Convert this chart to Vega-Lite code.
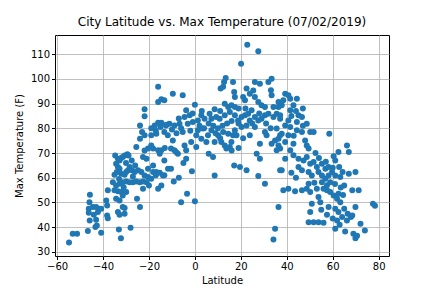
{
  "$schema": "https://vega.github.io/schema/vega-lite/v6.json",
  "width": 334,
  "height": 221,
  "autosize": {"type": "none"},
  "padding": {"left": 55, "top": 35, "right": 43, "bottom": 32},
  "title": {"text": "City Latitude vs. Max Temperature (07/02/2019)", "font": "DejaVu Sans", "fontSize": 12, "fontWeight": "normal", "color": "black", "offset": 6},
  "config": {
    "view": {"stroke": "black", "strokeWidth": 1},
    "axis": {"labelFont": "DejaVu Sans", "titleFont": "DejaVu Sans", "labelFontSize": 10, "titleFontSize": 10, "titleFontWeight": "normal", "labelColor": "black", "titleColor": "black", "gridColor": "#b0b0b0", "gridWidth": 0.8, "tickColor": "black", "tickSize": 3.5, "domain": false}
  },
  "data": {"values": [
    {"lat": -54.8, "temp": 33.8}, {"lat": -53.2, "temp": 37.3}, {"lat": -51.3, "temp": 37.3}, {"lat": -46.6, "temp": 38.4},
    {"lat": -45.7, "temp": 53.1}, {"lat": -45.9, "temp": 50.1}, {"lat": -46.2, "temp": 47.4}, {"lat": -46.2, "temp": 45.8}, {"lat": -45.8, "temp": 42.7},
    {"lat": -44.4, "temp": 48.1}, {"lat": -43.0, "temp": 48.1}, {"lat": -41.8, "temp": 47.4}, {"lat": -42.2, "temp": 46.1}, {"lat": -40.8, "temp": 47.4},
    {"lat": -43.0, "temp": 43.0}, {"lat": -42.7, "temp": 40.7}, {"lat": -43.3, "temp": 40.0}, {"lat": -40.8, "temp": 37.7},
    {"lat": -38.6, "temp": 50.8}, {"lat": -38.2, "temp": 48.8}, {"lat": -38.2, "temp": 44.7}, {"lat": -37.9, "temp": 43.6}, {"lat": -37.9, "temp": 54.9},
    {"lat": -34.7, "temp": 69.0}, {"lat": -33.5, "temp": 67.7}, {"lat": -32.8, "temp": 67.0}, {"lat": -32.1, "temp": 68.0}, {"lat": -31.4, "temp": 68.4}, {"lat": -30.6, "temp": 69.0}, {"lat": -29.4, "temp": 69.5}, {"lat": -28.9, "temp": 69.0},
    {"lat": -34.3, "temp": 65.7}, {"lat": -33.5, "temp": 64.3}, {"lat": -32.8, "temp": 63.6}, {"lat": -34.0, "temp": 62.3}, {"lat": -35.0, "temp": 61.2}, {"lat": -32.1, "temp": 61.6}, {"lat": -30.6, "temp": 61.2}, {"lat": -29.9, "temp": 62.3}, {"lat": -29.1, "temp": 63.0},
    {"lat": -35.7, "temp": 58.2}, {"lat": -34.3, "temp": 56.9}, {"lat": -32.8, "temp": 57.6}, {"lat": -31.4, "temp": 58.2}, {"lat": -29.9, "temp": 58.5}, {"lat": -28.4, "temp": 58.2}, {"lat": -27.0, "temp": 58.2}, {"lat": -25.5, "temp": 58.5}, {"lat": -24.0, "temp": 58.2}, {"lat": -22.6, "temp": 58.5}, {"lat": -21.1, "temp": 58.2},
    {"lat": -35.0, "temp": 54.9}, {"lat": -33.5, "temp": 54.5}, {"lat": -32.1, "temp": 54.2}, {"lat": -34.3, "temp": 51.5}, {"lat": -32.8, "temp": 50.8}, {"lat": -31.4, "temp": 52.8}, {"lat": -29.9, "temp": 54.2},
    {"lat": -33.5, "temp": 46.1}, {"lat": -32.8, "temp": 45.0}, {"lat": -31.4, "temp": 48.1}, {"lat": -30.6, "temp": 47.7}, {"lat": -30.6, "temp": 45.4},
    {"lat": -33.1, "temp": 39.0}, {"lat": -32.2, "temp": 35.5}, {"lat": -28.0, "temp": 39.7},
    {"lat": -25.2, "temp": 51.5}, {"lat": -23.9, "temp": 48.1},
    {"lat": -28.4, "temp": 64.3}, {"lat": -27.4, "temp": 63.0}, {"lat": -26.2, "temp": 62.3}, {"lat": -24.7, "temp": 63.0},
    {"lat": -25.5, "temp": 72.4}, {"lat": -23.9, "temp": 75.8}, {"lat": -23.9, "temp": 81.2}, {"lat": -23.0, "temp": 78.5}, {"lat": -21.9, "temp": 77.2},
    {"lat": -21.9, "temp": 87.7}, {"lat": -21.9, "temp": 84.9},
    {"lat": -21.9, "temp": 71.0}, {"lat": -20.4, "temp": 71.8}, {"lat": -19.0, "temp": 73.1}, {"lat": -22.6, "temp": 68.4}, {"lat": -21.1, "temp": 67.7},
    {"lat": -23.3, "temp": 62.3}, {"lat": -21.9, "temp": 60.9}, {"lat": -20.4, "temp": 60.3}, {"lat": -22.6, "temp": 55.5}, {"lat": -20.0, "temp": 56.9}, {"lat": -20.4, "temp": 63.6},
    {"lat": -19.0, "temp": 77.2}, {"lat": -16.8, "temp": 77.8}, {"lat": -17.5, "temp": 81.2}, {"lat": -16.0, "temp": 82.3}, {"lat": -14.6, "temp": 82.3}, {"lat": -12.4, "temp": 81.5},
    {"lat": -16.0, "temp": 96.8}, {"lat": -16.0, "temp": 90.7}, {"lat": -14.6, "temp": 91.8},
    {"lat": -18.2, "temp": 71.8}, {"lat": -16.0, "temp": 71.1}, {"lat": -14.6, "temp": 71.1}, {"lat": -13.1, "temp": 72.0}, {"lat": -15.3, "temp": 69.7},
    {"lat": -18.2, "temp": 65.0}, {"lat": -16.8, "temp": 62.3}, {"lat": -15.3, "temp": 62.0}, {"lat": -13.9, "temp": 60.9}, {"lat": -18.2, "temp": 62.3}, {"lat": -19.0, "temp": 59.6},
    {"lat": -16.0, "temp": 55.5}, {"lat": -14.6, "temp": 56.9}, {"lat": -11.7, "temp": 63.6},
    {"lat": 22.8, "temp": 113.9}, {"lat": 27.6, "temp": 111.2}, {"lat": 20.1, "temp": 106.2},
    {"lat": 13.4, "temp": 100.4}, {"lat": 12.7, "temp": 98.8}, {"lat": 11.2, "temp": 96.1}, {"lat": 12.3, "temp": 96.8},
    {"lat": 16.6, "temp": 98.8}, {"lat": 17.1, "temp": 94.7}, {"lat": 17.4, "temp": 92.7},
    {"lat": 21.0, "temp": 92.7}, {"lat": 22.5, "temp": 96.1}, {"lat": 21.8, "temp": 91.4}, {"lat": 23.9, "temp": 94.0}, {"lat": 26.1, "temp": 98.8}, {"lat": 28.3, "temp": 98.1}, {"lat": 32.0, "temp": 98.8}, {"lat": 33.4, "temp": 100.1}, {"lat": 33.1, "temp": 95.4}, {"lat": 33.4, "temp": 93.4},
    {"lat": 25.4, "temp": 95.3}, {"lat": 26.1, "temp": 92.7}, {"lat": 27.6, "temp": 90.7}, {"lat": 29.0, "temp": 89.3}, {"lat": 30.5, "temp": 88.6}, {"lat": 34.2, "temp": 88.6}, {"lat": 36.4, "temp": 90.7},
    {"lat": -9.6, "temp": 94.0}, {"lat": -5.3, "temp": 93.4}, {"lat": -13.3, "temp": 91.4}, {"lat": 0.0, "temp": 89.6},
    {"lat": -3.8, "temp": 87.3}, {"lat": -2.3, "temp": 85.3}, {"lat": -4.5, "temp": 84.6}, {"lat": -6.7, "temp": 81.9}, {"lat": -8.9, "temp": 81.2}, {"lat": -11.1, "temp": 81.9}, {"lat": -12.6, "temp": 81.2}, {"lat": -3.1, "temp": 81.9}, {"lat": -0.9, "temp": 82.6}, {"lat": 1.3, "temp": 83.2}, {"lat": 2.8, "temp": 85.3}, {"lat": 4.2, "temp": 83.9}, {"lat": 6.4, "temp": 85.9}, {"lat": 8.6, "temp": 87.7}, {"lat": 7.2, "temp": 83.9}, {"lat": 9.3, "temp": 84.6}, {"lat": 10.8, "temp": 83.9}, {"lat": 13.0, "temp": 85.3}, {"lat": 14.5, "temp": 88.6}, {"lat": 15.9, "temp": 89.3}, {"lat": 15.2, "temp": 86.6}, {"lat": 17.4, "temp": 88.6}, {"lat": 17.4, "temp": 85.3}, {"lat": 18.8, "temp": 83.2}, {"lat": 20.3, "temp": 84.6}, {"lat": 21.8, "temp": 85.3}, {"lat": 23.2, "temp": 85.9}, {"lat": 23.9, "temp": 83.2}, {"lat": 24.7, "temp": 87.3}, {"lat": 26.1, "temp": 84.6}, {"lat": 27.6, "temp": 83.2}, {"lat": 29.0, "temp": 83.9}, {"lat": 30.5, "temp": 85.3}, {"lat": 32.0, "temp": 85.9}, {"lat": 34.2, "temp": 84.6}, {"lat": 35.6, "temp": 85.9}, {"lat": 37.1, "temp": 85.3},
    {"lat": -13.3, "temp": 78.5}, {"lat": -11.8, "temp": 77.2}, {"lat": -9.6, "temp": 75.1}, {"lat": -10.4, "temp": 71.8}, {"lat": -8.9, "temp": 71.1}, {"lat": -7.4, "temp": 69.7}, {"lat": -5.3, "temp": 78.5}, {"lat": -4.5, "temp": 73.1}, {"lat": -3.8, "temp": 71.1}, {"lat": -3.8, "temp": 67.7}, {"lat": -1.6, "temp": 74.5}, {"lat": 0.6, "temp": 72.4}, {"lat": 0.6, "temp": 77.2}, {"lat": 1.3, "temp": 79.2}, {"lat": 3.5, "temp": 79.9}, {"lat": 2.8, "temp": 75.8}, {"lat": 5.0, "temp": 74.5}, {"lat": 5.7, "temp": 77.2}, {"lat": 7.2, "temp": 79.2}, {"lat": 8.6, "temp": 74.5}, {"lat": 10.1, "temp": 77.2}, {"lat": 11.5, "temp": 74.5}, {"lat": 13.0, "temp": 73.1}, {"lat": 13.7, "temp": 71.8}, {"lat": 15.2, "temp": 72.4}, {"lat": 15.9, "temp": 74.5}, {"lat": 16.6, "temp": 77.2}, {"lat": 14.5, "temp": 77.8}, {"lat": 12.3, "temp": 78.5}, {"lat": 17.4, "temp": 79.2}, {"lat": 23.9, "temp": 77.2}, {"lat": 28.3, "temp": 73.8}, {"lat": 30.5, "temp": 78.5}, {"lat": 31.2, "temp": 77.2}, {"lat": 33.4, "temp": 73.8}, {"lat": 34.9, "temp": 75.1}, {"lat": 36.4, "temp": 73.1}, {"lat": 37.1, "temp": 77.2}, {"lat": 26.1, "temp": 80.5}, {"lat": 20.3, "temp": 80.5}, {"lat": 18.1, "temp": 77.2}, {"lat": 22.5, "temp": 81.2},
    {"lat": -13.3, "temp": 67.0}, {"lat": -13.3, "temp": 61.0}, {"lat": -10.4, "temp": 63.6}, {"lat": -9.2, "temp": 58.5}, {"lat": -6.0, "temp": 50.1}, {"lat": -3.4, "temp": 53.5}, {"lat": 0.0, "temp": 50.5}, {"lat": -1.3, "temp": 62.6}, {"lat": 6.0, "temp": 69.7}, {"lat": 7.9, "temp": 68.4}, {"lat": 8.6, "temp": 60.9}, {"lat": 17.1, "temp": 65.0}, {"lat": 19.6, "temp": 64.3}, {"lat": 22.5, "temp": 63.0}, {"lat": 26.9, "temp": 69.7}, {"lat": 28.3, "temp": 67.7}, {"lat": 27.6, "temp": 60.7}, {"lat": 30.5, "temp": 57.6}, {"lat": 37.1, "temp": 63.0}, {"lat": 36.4, "temp": 48.1}, {"lat": 34.9, "temp": 39.3}, {"lat": 34.2, "temp": 35.0}, {"lat": -8.2, "temp": 70.4},
    {"lat": 39.3, "temp": 94.0}, {"lat": 40.7, "temp": 93.4}, {"lat": 41.5, "temp": 92.0}, {"lat": 38.5, "temp": 91.4}, {"lat": 44.4, "temp": 92.0}, {"lat": 42.9, "temp": 89.3}, {"lat": 37.8, "temp": 89.3}, {"lat": 36.4, "temp": 88.6}, {"lat": 41.5, "temp": 87.3}, {"lat": 45.1, "temp": 85.3}, {"lat": 46.6, "temp": 84.6}, {"lat": 48.7, "temp": 81.9}, {"lat": 44.4, "temp": 82.6}, {"lat": 40.7, "temp": 83.2}, {"lat": 37.1, "temp": 83.9}, {"lat": 39.3, "temp": 81.2}, {"lat": 41.5, "temp": 80.5}, {"lat": 44.4, "temp": 79.2}, {"lat": 46.6, "temp": 78.5}, {"lat": 50.2, "temp": 78.5}, {"lat": 51.7, "temp": 78.5}, {"lat": 58.5, "temp": 77.8}, {"lat": 35.6, "temp": 79.9}, {"lat": 37.8, "temp": 77.8}, {"lat": 40.7, "temp": 77.2}, {"lat": 36.4, "temp": 75.8}, {"lat": 39.3, "temp": 74.5}, {"lat": 42.9, "temp": 73.8}, {"lat": 37.1, "temp": 71.8}, {"lat": 41.5, "temp": 71.1}, {"lat": 48.0, "temp": 75.1}, {"lat": 48.7, "temp": 73.1}, {"lat": 49.5, "temp": 71.8}, {"lat": 35.6, "temp": 71.1}, {"lat": 39.3, "temp": 67.7}, {"lat": 42.9, "temp": 69.1}, {"lat": 45.1, "temp": 67.7}, {"lat": 47.3, "temp": 67.0}, {"lat": 48.7, "temp": 68.4}, {"lat": 50.2, "temp": 65.7}, {"lat": 51.7, "temp": 66.4}, {"lat": 53.1, "temp": 64.3}, {"lat": 55.3, "temp": 65.7}, {"lat": 56.8, "temp": 63.6}, {"lat": 58.2, "temp": 64.3}, {"lat": 61.1, "temp": 67.0}, {"lat": 62.5, "temp": 70.4}, {"lat": 66.2, "temp": 73.1}, {"lat": 67.0, "temp": 70.4}, {"lat": 60.4, "temp": 68.7}, {"lat": 62.8, "temp": 64.3}, {"lat": 64.3, "temp": 62.3}, {"lat": 67.0, "temp": 61.6}, {"lat": 69.9, "temp": 62.3}, {"lat": 45.1, "temp": 64.3}, {"lat": 46.6, "temp": 63.0}, {"lat": 49.5, "temp": 62.3}, {"lat": 50.9, "temp": 60.9}, {"lat": 53.8, "temp": 62.3}, {"lat": 55.3, "temp": 60.9}, {"lat": 56.8, "temp": 59.6}, {"lat": 58.2, "temp": 60.9}, {"lat": 58.9, "temp": 58.2}, {"lat": 59.7, "temp": 62.3}, {"lat": 61.1, "temp": 60.9}, {"lat": 63.3, "temp": 60.3}, {"lat": 37.8, "temp": 63.0}, {"lat": 40.7, "temp": 55.5}, {"lat": 38.5, "temp": 54.9}, {"lat": 43.6, "temp": 54.5}, {"lat": 46.6, "temp": 54.9}, {"lat": 48.7, "temp": 55.5}, {"lat": 50.2, "temp": 54.2}, {"lat": 49.5, "temp": 57.6}, {"lat": 53.1, "temp": 55.5}, {"lat": 55.3, "temp": 58.2}, {"lat": 56.0, "temp": 55.5}, {"lat": 57.5, "temp": 54.9}, {"lat": 58.9, "temp": 54.2}, {"lat": 60.4, "temp": 52.8}, {"lat": 61.9, "temp": 51.5}, {"lat": 63.3, "temp": 50.1}, {"lat": 62.5, "temp": 53.5}, {"lat": 65.0, "temp": 56.9}, {"lat": 68.5, "temp": 54.9}, {"lat": 71.3, "temp": 54.9}, {"lat": 53.8, "temp": 52.2}, {"lat": 54.6, "temp": 50.1}, {"lat": 58.2, "temp": 48.1}, {"lat": 61.1, "temp": 47.4}, {"lat": 62.5, "temp": 46.1}, {"lat": 65.0, "temp": 47.4}, {"lat": 66.5, "temp": 45.4}, {"lat": 67.9, "temp": 44.1}, {"lat": 69.9, "temp": 48.1}, {"lat": 50.9, "temp": 49.5}, {"lat": 50.2, "temp": 46.1}, {"lat": 49.5, "temp": 42.0}, {"lat": 51.7, "temp": 42.0}, {"lat": 53.8, "temp": 42.0}, {"lat": 56.0, "temp": 41.8}, {"lat": 61.9, "temp": 42.7}, {"lat": 64.1, "temp": 44.1}, {"lat": 66.2, "temp": 42.7}, {"lat": 68.5, "temp": 44.7}, {"lat": 72.1, "temp": 41.4}, {"lat": 61.1, "temp": 39.3}, {"lat": 65.4, "temp": 38.2}, {"lat": 69.0, "temp": 37.3}, {"lat": 69.9, "temp": 35.5}, {"lat": 70.6, "temp": 36.5}, {"lat": 74.0, "temp": 38.6}, {"lat": 77.5, "temp": 49.5}, {"lat": 78.4, "temp": 48.6},
    {"lat": -19.0, "temp": 80.0}, {"lat": -17.0, "temp": 79.0}, {"lat": -15.0, "temp": 80.5}, {"lat": -10.0, "temp": 79.5}, {"lat": -8.0, "temp": 78.0}, {"lat": -6.0, "temp": 80.0}, {"lat": -2.0, "temp": 79.0}, {"lat": 2.0, "temp": 81.0}, {"lat": 4.0, "temp": 80.0}, {"lat": 6.0, "temp": 82.0}, {"lat": 8.0, "temp": 81.0}, {"lat": 10.0, "temp": 80.0}, {"lat": 12.0, "temp": 81.0}, {"lat": 14.0, "temp": 82.0}, {"lat": 16.0, "temp": 83.0}, {"lat": 19.0, "temp": 82.0},
    {"lat": -7.0, "temp": 84.0}, {"lat": -1.0, "temp": 86.0}, {"lat": 3.0, "temp": 87.0}, {"lat": 11.0, "temp": 87.0}, {"lat": 13.0, "temp": 90.0}, {"lat": 19.0, "temp": 88.0}, {"lat": 22.0, "temp": 88.0},
    {"lat": 9.0, "temp": 78.0}, {"lat": 11.0, "temp": 76.0}, {"lat": 16.0, "temp": 71.0}, {"lat": 19.0, "temp": 72.0}, {"lat": 21.0, "temp": 76.0}, {"lat": 25.0, "temp": 82.0}, {"lat": 28.0, "temp": 86.0}, {"lat": 31.0, "temp": 82.0}, {"lat": 33.0, "temp": 80.0},
    {"lat": 42.0, "temp": 85.0}, {"lat": 44.0, "temp": 87.0}, {"lat": 47.0, "temp": 88.0}, {"lat": 43.0, "temp": 77.0}, {"lat": 47.0, "temp": 81.0},
    {"lat": 52.5, "temp": 70.0}, {"lat": 54.0, "temp": 68.0}, {"lat": 57.0, "temp": 66.5}, {"lat": 60.0, "temp": 64.0}, {"lat": 57.5, "temp": 57.0}, {"lat": 61.0, "temp": 57.5}, {"lat": 63.5, "temp": 56.0}, {"lat": 64.5, "temp": 53.0}, {"lat": 52.0, "temp": 58.0},
    {"lat": -30.0, "temp": 66.0}, {"lat": -27.5, "temp": 67.0}, {"lat": -26.0, "temp": 65.0}, {"lat": -27.0, "temp": 60.5}, {"lat": -33.0, "temp": 59.5}, {"lat": -31.0, "temp": 56.0}, {"lat": -17.0, "temp": 61.0}, {"lat": -7.0, "temp": 60.0}, {"lat": -5.0, "temp": 66.0},
    {"lat": 42.0, "temp": 62.0}, {"lat": 44.0, "temp": 60.0}, {"lat": 55.0, "temp": 47.0}, {"lat": 57.5, "temp": 45.0}, {"lat": 60.0, "temp": 43.5}, {"lat": 63.0, "temp": 41.0}, {"lat": -44.0, "temp": 45.0}
  ]},
  "mark": {"type": "point", "filled": true, "opacity": 1, "color": "#1f77b4", "size": 36},
  "encoding": {
    "x": {"field": "lat", "type": "quantitative", "title": "Latitude", "scale": {"domain": [-60.9, 84.5], "nice": false, "zero": false}, "axis": {"values": [-60, -40, -20, 0, 20, 40, 60, 80], "titlePadding": 4}},
    "y": {"field": "temp", "type": "quantitative", "title": "Max Temperature (F)", "scale": {"domain": [28.3, 117.8], "nice": false, "zero": false}, "axis": {"values": [30, 40, 50, 60, 70, 80, 90, 100, 110], "titlePadding": 6}}
  }
}
